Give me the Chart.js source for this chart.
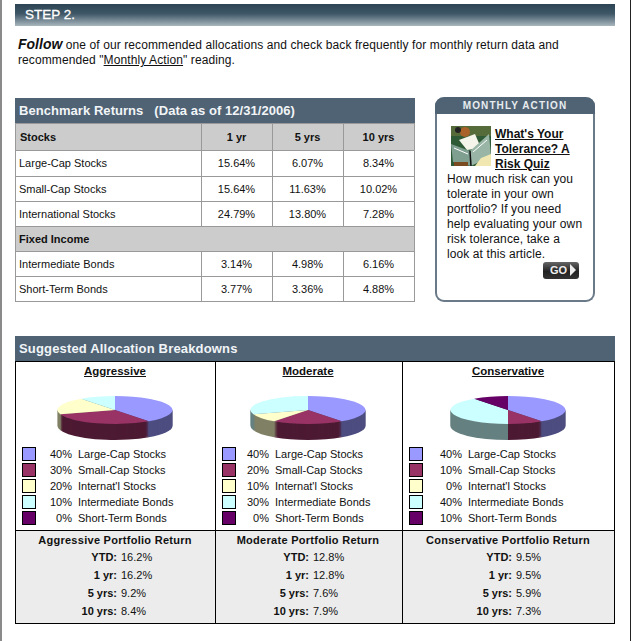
<!DOCTYPE html>
<html lang="en">
<head>
    <meta charset="UTF-8">
    <title>Step 2</title>
    <style>
        html, body { margin: 0; padding: 0; background: #fff; overflow: hidden; }
        body { font-family: Arial, "Liberation Sans", sans-serif; font-size: 11px; color: #111; width: 631px; height: 641px; position: relative; }
        .abs, .t { position: absolute; white-space: nowrap; }
        .t { line-height: 16px; }
        .bar { background: #4f6375; color: #f2f5f7; font-weight: bold; font-size: 13px; line-height: 25px; padding-left: 4px; box-sizing: border-box; }
        .hline, .vline { position: absolute; background: #999; }
        .blk { background: #000; }
        a { color: inherit; }
    </style>
</head>
<body>
    <div class="abs" style="left:0;top:0;width:2px;height:641px;background:#8a8a8a"></div>
    <div class="abs" style="left:630px;top:0;width:1px;height:641px;background:#222"></div>

    <div class="abs" style="left:15px;top:4px;width:600px;height:22px;background:linear-gradient(#2c4453,#3f5868 45%,#a9b6bd)"></div>
    <div class="t" style="left:25px;top:7px;color:#fff;font-size:13.5px;-webkit-text-stroke:.3px #fff;">STEP 2.</div>

    <div class="t" style="left:18px;top:36px;font-size:12px;letter-spacing:.1px;"><b style="font-size:14px;font-style:italic;letter-spacing:0">Follow</b> one of our recommended allocations and check back frequently for monthly return data and</div>
    <div class="t" style="left:18px;top:52px;font-size:12px;letter-spacing:.1px;">recommended "<a href="#">Monthly Action</a>" reading.</div>

    <div id="benchmark"></div>

    <div class="abs" style="left:435px;top:97px;width:156px;height:203px;border:2px solid #6a7a88;border-top:0;border-radius:9px;box-sizing:content-box"></div>
    <div class="abs" style="left:435px;top:97px;width:160px;height:17px;background:#4f6375;border-radius:9px 9px 0 0;color:#e8ecef;font-weight:bold;font-size:10px;line-height:17px;text-align:center;letter-spacing:1.1px">MONTHLY ACTION</div>
    <svg class="abs" style="left:451px;top:126px" width="40" height="40" viewBox="0 0 40 40">
        <rect width="40" height="40" fill="#2f5a36"/>
        <rect x="0" y="0" width="40" height="10" fill="#556b3a"/>
        <circle cx="14" cy="6" r="5" fill="#a8622a"/>
        <circle cx="7" cy="4" r="3" fill="#222"/>
        <polygon points="8,14 24,8 30,22 16,24" fill="#f4f4ea"/>
        <polygon points="0,18 19,25 20,40 2,36" fill="#7f9f90"/>
        <polygon points="19,25 38,8 40,30 20,40" fill="#98b5a6"/>
        <path d="M3,22 L17,28 M22,26 L36,14" fill="none" stroke="#fff"/>
        <path d="M19,25 L20,40" fill="none" stroke="#111" stroke-width="1.5"/>
        <polygon points="30,32 40,28 40,40 24,40" fill="#f0e8b0"/>
        <rect x="3" y="36" width="14" height="4" fill="#7a4a20"/>
    </svg>
    <div class="t" style="left:495px;top:127px;font-size:12px;font-weight:bold;line-height:15px;white-space:normal;width:90px"><a href="#">What's Your Tolerance? A Risk Quiz</a></div>
    <div class="t" style="left:447px;top:172px;font-size:12px;line-height:15px;letter-spacing:.1px;">How much risk can you<br>tolerate in your own<br>portfolio? If you need<br>help evaluating your own<br>risk tolerance, take a<br>look at this article.</div>
    <div class="abs" style="left:543px;top:262px;width:36px;height:17px;border-radius:3px;background:linear-gradient(#666,#222 55%,#333);color:#eee;font-weight:bold;font-size:11px;line-height:17px;padding-left:7px;box-sizing:border-box">GO<span class="abs" style="left:27px;top:2px;border-left:6px solid #eee;border-top:6.5px solid transparent;border-bottom:6.5px solid transparent"></span></div>

    <div class="bar abs" style="left:15px;top:336px;width:600px;letter-spacing:.17px">Suggested Allocation Breakdowns</div>
    <div id="alloc"></div>

    <script src="https://cdn.jsdelivr.net/npm/chart.js"></script>
    <script>
        const benchmarkTitle = 'Benchmark Returns \u00a0 (Data as of 12/31/2006)';
        const benchmarkHead = ['Stocks', '1 yr', '5 yrs', '10 yrs'];
        const stockRows = ['Large-Cap Stocks', 'Small-Cap Stocks', 'International Stocks'];
        const stockValues = [['15.64%', '6.07%', '8.34%'], ['15.64%', '11.63%', '10.02%'], ['24.79%', '13.80%', '7.28%']];
        const bondHead = 'Fixed Income';
        const bondRows = ['Intermediate Bonds', 'Short-Term Bonds'];
        const bondValues = [['3.14%', '4.98%', '6.16%'], ['3.77%', '3.36%', '4.88%']];

        const categories = ['Large-Cap Stocks', 'Small-Cap Stocks', "Internat'l Stocks", 'Intermediate Bonds', 'Short-Term Bonds'];
        const aggressive = [40, 30, 20, 10, 0];
        const moderate = [40, 20, 10, 30, 0];
        const conservative = [40, 10, 0, 40, 10];
        const sliceColors = ['#9999ff', '#993366', '#ffffcc', '#ccffff', '#660066'];
        const sideColors = ['#4d4d80', '#4d1a33', '#808066', '#668080', '#330033'];

        const portfolioNames = ['Aggressive', 'Moderate', 'Conservative'];
        const returnLabels = ['YTD:', '1 yr:', '5 yrs:', '10 yrs:'];
        const aggressiveReturns = ['16.2%', '16.2%', '9.2%', '8.4%'];
        const moderateReturns = ['12.8%', '12.8%', '7.6%', '7.9%'];
        const conservativeReturns = ['9.5%', '9.5%', '5.9%', '7.3%'];

        function addDiv(parent, cls, css, html) {
            const d = document.createElement('div');
            d.className = cls;
            d.style.cssText = css;
            if (html !== undefined) d.innerHTML = html;
            parent.appendChild(d);
            return d;
        }

        // benchmark table
        const bm = document.getElementById('benchmark');
        const rowY = [123, 150, 176, 201, 226, 251, 276, 301];
        const colX = [15, 201, 272, 343, 414];
        addDiv(bm, 'bar abs', 'left:15px;top:98px;width:400px;line-height:25px;padding-left:4px;letter-spacing:.05px', benchmarkTitle);
        addDiv(bm, 'abs', 'left:15px;top:123px;width:400px;height:27px;background:#ccc');
        addDiv(bm, 'abs', 'left:15px;top:226px;width:400px;height:25px;background:#ccc');
        rowY.forEach(y => addDiv(bm, 'hline', `left:15px;top:${y}px;width:400px;height:1px`));
        colX.forEach((x, i) => {
            addDiv(bm, 'vline', `left:${x}px;top:123px;width:1px;height:103px`);
            addDiv(bm, 'vline', `left:${x}px;top:251px;width:1px;height:50px`);
            if (i === 0 || i === 4) addDiv(bm, 'vline', `left:${x}px;top:226px;width:1px;height:25px`);
        });
        function cell(x, y, w, txt, extra) {
            addDiv(bm, 't', `left:${x}px;top:${y}px;width:${w}px;text-align:center;${extra || ''}`, txt);
        }
        benchmarkHead.forEach((h, i) => {
            if (i === 0) addDiv(bm, 't', 'left:20px;top:129px;font-weight:bold;font-size:11px', h);
            else cell(colX[i], 129, colX[i + 1] - colX[i], h, 'font-weight:bold');
        });
        function dataRows(names, values, ys) {
            names.forEach((n, r) => {
                addDiv(bm, 't', `left:19px;top:${ys[r]}px`, n);
                values[r].forEach((v, c) => cell(colX[c + 1], ys[r], colX[c + 2] - colX[c + 1], v));
            });
        }
        dataRows(stockRows, stockValues, [155, 181, 206]);
        addDiv(bm, 't', 'left:19px;top:231px;font-weight:bold', bondHead);
        dataRows(bondRows, bondValues, [256, 281]);

        // allocation columns
        const al = document.getElementById('alloc');
        addDiv(al, 'abs', 'left:15px;top:531px;width:600px;height:92px;background:#ececec');
        [361, 530, 623].forEach(y => addDiv(al, 'abs blk', `left:15px;top:${y}px;width:600px;height:1px`));
        [15, 215, 402, 614].forEach(x => addDiv(al, 'abs blk', `left:${x}px;top:361px;width:1px;height:263px`));

        const columnCentre = [115, 308, 508];
        const swatchX = [22, 222, 409];
        const pctRight = [72, 269, 462];
        const labelColon = [117, 309, 512];
        const allValues = [aggressive, moderate, conservative];
        const allReturns = [aggressiveReturns, moderateReturns, conservativeReturns];

        // squashes the flat pie into an ellipse and stacks dark copies under it for the side wall
        const tiltPlugin = {
            id: 'tilt',
            beforeDatasetsDraw(chart, args, opts) {
                const ctx = chart.ctx;
                const arcs = chart.getDatasetMeta(0).data;
                const a0 = arcs[0];
                const r = a0.outerRadius;
                const cx = a0.x, cy = a0.y;
                const squash = () => {
                    ctx.translate(cx, opts.ry);
                    ctx.scale(opts.rx / r, opts.ry / r);
                    ctx.translate(-cx, -cy);
                };
                for (let d = opts.depth; d >= 1; d--) {
                    ctx.save();
                    ctx.translate(0, d);
                    squash();
                    arcs.forEach((a, i) => {
                        if (a.endAngle - a.startAngle <= 0) return;
                        ctx.beginPath();
                        ctx.moveTo(cx, cy);
                        ctx.arc(cx, cy, r, a.startAngle, a.endAngle);
                        ctx.closePath();
                        ctx.fillStyle = sideColors[i];
                        ctx.fill();
                    });
                    ctx.restore();
                }
                ctx.save();
                squash();
            },
            afterDatasetsDraw(chart) {
                chart.ctx.restore();
            }
        };

        portfolioNames.forEach((name, k) => {
            const mid = columnCentre[k];
            addDiv(al, 't', `left:${mid - 80}px;top:363px;width:160px;text-align:center;font-weight:bold;font-size:11.5px`, `<a href="#">${name}</a>`);

            const canvas = document.createElement('canvas');
            canvas.style.cssText = `position:absolute;left:${mid - 60}px;top:396px;width:120px;height:46px`;
            canvas.width = 120;
            canvas.height = 46;
            al.appendChild(canvas);
            new Chart(canvas, {
                type: 'pie',
                data: {
                    labels: categories,
                    datasets: [{ data: allValues[k], backgroundColor: sliceColors, borderWidth: 0 }]
                },
                options: {
                    responsive: false,
                    animation: false,
                    layout: { padding: 0 },
                    plugins: {
                        legend: { display: false },
                        tooltip: { enabled: false },
                        tilt: { rx: 57.5, ry: 14, depth: 16 }
                    }
                },
                plugins: [tiltPlugin]
            });

            categories.forEach((c, i) => {
                const y = 447 + i * 16;
                addDiv(al, 'abs', `left:${swatchX[k]}px;top:${y}px;width:12px;height:12px;border:1px solid #000;background:${sliceColors[i]}`);
                addDiv(al, 't', `left:${pctRight[k] - 40}px;top:${y - 1}px;width:40px;text-align:right`, allValues[k][i] + '%');
                addDiv(al, 't', `left:${pctRight[k] + 6}px;top:${y - 1}px`, c);
            });

            addDiv(al, 't', `left:${mid - 95}px;top:532px;width:190px;text-align:center;font-weight:bold;letter-spacing:.28px`, name + ' Portfolio Return');
            returnLabels.forEach((lab, i) => {
                const y = 549 + i * 18;
                addDiv(al, 't', `left:${labelColon[k] - 60}px;top:${y}px;width:60px;text-align:right;font-weight:bold`, lab);
                addDiv(al, 't', `left:${labelColon[k] + 4}px;top:${y}px`, allReturns[k][i]);
            });
        });
    </script>
</body>
</html>
